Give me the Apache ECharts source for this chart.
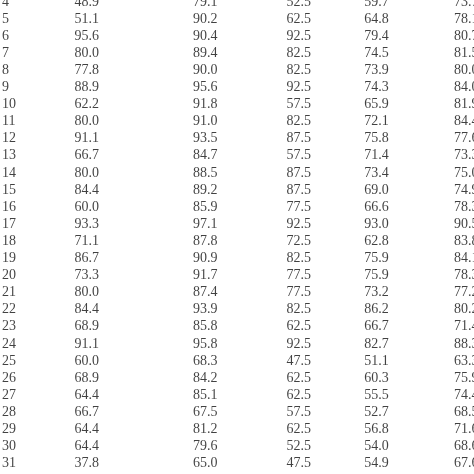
<!DOCTYPE html>
<html><head><meta charset="utf-8">
<script src="https://cdn.jsdelivr.net/npm/echarts@6/dist/echarts.min.js"></script>
<style>html,body{margin:0;padding:0;background:#fff}#c{width:474px;height:474px}</style>
</head><body><div id="c"></div>
<script>
const rows = [4,5,6,7,8,9,10,11,12,13,14,15,16,17,18,19,20,21,22,23,24,25,26,27,28,29,30,31];
const col1 = [48.9,51.1,95.6,80.0,77.8,88.9,62.2,80.0,91.1,66.7,80.0,84.4,60.0,93.3,71.1,86.7,73.3,80.0,84.4,68.9,91.1,60.0,68.9,64.4,66.7,64.4,64.4,37.8];
const col2 = [79.1,90.2,90.4,89.4,90.0,95.6,91.8,91.0,93.5,84.7,88.5,89.2,85.9,97.1,87.8,90.9,91.7,87.4,93.9,85.8,95.8,68.3,84.2,85.1,67.5,81.2,79.6,65.0];
const col3 = [52.5,62.5,92.5,82.5,82.5,92.5,57.5,82.5,87.5,57.5,87.5,87.5,77.5,92.5,72.5,82.5,77.5,77.5,82.5,62.5,92.5,47.5,62.5,62.5,57.5,62.5,52.5,47.5];
const col4 = [59.7,64.8,79.4,74.5,73.9,74.3,65.9,72.1,75.8,71.4,73.4,69.0,66.6,93.0,62.8,75.9,75.9,73.2,86.2,66.7,82.7,51.1,60.3,55.5,52.7,56.8,54.0,54.9];
const col5 = [73.7,78.1,80.7,81.5,80.0,84.0,81.9,84.4,77.6,73.3,75.0,74.9,78.3,90.5,83.8,84.1,78.3,77.2,80.2,71.4,88.3,63.3,75.9,74.4,68.5,71.6,68.6,67.6];

const columns = [rows, col1, col2, col3, col4, col5];
const xPos = [0, 85, 204, 298, 376, 454];
const aligns = ['left','center','center','center','center','left'];
const chart = echarts.init(document.getElementById('c'));
const series = columns.map((col, ci) => ({
  type: 'scatter',
  symbolSize: 0,
  silent: true,
  clip: false,
  data: col.map((v, i) => [xPos[ci], rows[i], ci === 0 ? String(v) : v.toFixed(1)]),
  label: {
    show: true, position: 'inside', align: aligns[ci], verticalAlign: 'middle',
    formatter: p => p.value[2],
    fontFamily: 'Liberation Serif', fontSize: 14, color: '#111'
  }
}));
const rowStep = 17.1;
const yMin = 5 - 19 / rowStep;
chart.setOption({
  animation: false,
  grid: {left: 0, right: 0, top: 0, bottom: 0},
  xAxis: {type: 'value', min: -2, max: 474, show: false},
  yAxis: {type: 'value', inverse: true, min: yMin, max: yMin + 474 / rowStep, show: false},
  series
});
</script></body></html>
